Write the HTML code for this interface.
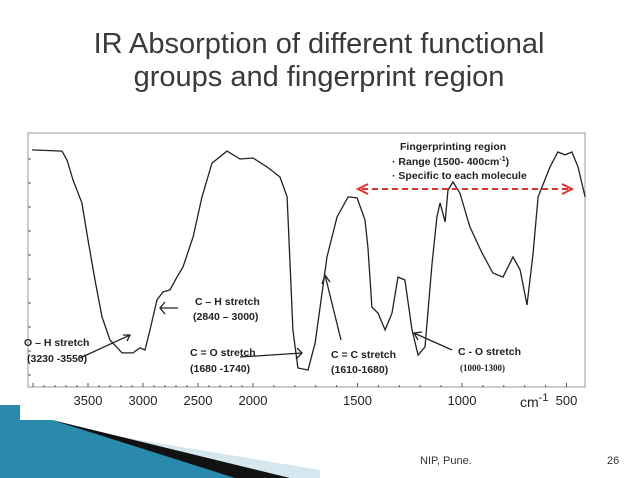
<!DOCTYPE html>
<html><head><meta charset="utf-8"><style>
body{margin:0;width:638px;height:478px;overflow:hidden;background:#fff;font-family:"Liberation Sans",sans-serif;position:relative}
.t{position:absolute;left:0;width:638px;text-align:center;font-size:29px;color:#3a3a3a;line-height:33px}
</style></head><body>
<div class="t" style="top:28px">IR Absorption of different functional<br>groups and fingerprint region</div>
<svg width="638" height="478" style="position:absolute;left:0;top:0">
<polygon points="0,408 20,408 20,420 320,470 320,478 0,478" fill="#d5e8f0"/>
<polygon points="52,420 290,478 0,478 0,420" fill="#111"/>
<polygon points="0,405 20,405 20,420 52,420 235,478 0,478" fill="#2a8aae"/>
<rect x="22" y="132" width="570" height="288" fill="#fff"/>
<rect x="28" y="133" width="557" height="254" fill="none" stroke="#999" stroke-width="1"/>
<g id="ticks"></g>
<path id="curve" fill="none" stroke="#222" stroke-width="1.3"/>
<g font-size="10.5" font-weight="bold" fill="#222">
<text x="24" y="346">O – H stretch</text><text x="27" y="362">(3230 -3550)</text>
<text x="195" y="305">C – H stretch</text><text x="193" y="320">(2840 – 3000)</text>
<text x="190" y="356">C = O stretch</text><text x="190" y="372">(1680 -1740)</text>
<text x="331" y="358">C = C stretch</text><text x="331" y="373">(1610-1680)</text>
<text x="458" y="355">C - O stretch</text><text x="460" y="371" font-size="9" font-family="Liberation Serif">(1000-1300)</text>
<text x="400" y="150">Fingerprinting region</text>
<text x="392" y="165">· Range (1500- 400cm<tspan font-size="7" dy="-4">-1</tspan><tspan dy="4">)</tspan></text>
<text x="392" y="179">· Specific to each molecule</text>
</g>
<g stroke="#222" stroke-width="1.3" fill="none">
<path d="M80,358 L130,335 M123,335 L130,335 L127,341"/>
<path d="M160,308 L178,308 M165,302 L160,308 L165,314"/>
<path d="M240,357 L302,353 M297,348 L302,353 L296,359"/>
<path d="M341,340 L325,275 M322,284 L325,275 L330,282"/>
<path d="M452,350 L414,333 M418,340 L414,333 L422,332"/>
</g>
<g>
<line x1="362" y1="189" x2="568" y2="189" stroke="#e53030" stroke-width="2" stroke-dasharray="6,4"/>
<path d="M368,184 L358,189 L368,194 M562,184 L572,189 L562,194" stroke="#e53030" stroke-width="2" fill="none"/>
</g>
<g font-size="13" fill="#222" text-anchor="middle" id="xlabels"></g>
<text x="520" y="407" font-size="14" fill="#222">cm<tspan font-size="11" dy="-6">-1</tspan></text>
</svg>
<div style="position:absolute;left:420px;top:455px;font-size:11px;color:#333">NIP, Pune.</div>
<div style="position:absolute;left:607px;top:455px;font-size:11px;color:#333">26</div>
<script>
const wavenumbers=[4009,3736,3691,3636,3555,3500,3436,3373,3300,3191,3091,3027,2982,2936,2873,2818,2755,2691,2636,2545,2464,2373,2236,2118,2000,1933,1871,1837,1823,1809,1785,1737,1703,1679,1646,1598,1545,1502,1464,1450,1431,1402,1368,1335,1306,1273,1239,1210,1177,1143,1120,1105,1081,1067,1043,1010,962,904,852,804,756,722,689,660,636,579,541,507,474,445,411];
const transmittance=[98.8,98.3,94.6,86.3,76.7,61.3,44.6,29.2,19.6,14.2,14.2,16.3,15.4,23.8,36.3,39.6,40.4,45.8,50,62.5,79.2,93.3,98.3,95,95.4,91.7,87.5,79.2,51.7,23.8,7.9,7.1,18.3,33.3,54.2,70.8,79.2,78.8,69.6,58.3,33.3,30.8,23.8,30.8,45.8,44.6,23.8,13.3,16.7,51.7,70.8,76.7,68.8,82.1,85.4,80.8,66.7,55.8,47.5,45.8,54.2,48.8,34.2,55.8,79.2,91.7,97.9,96.7,97.9,91.7,79.2];
const tickValues=[3500,3000,2500,2000,1500,1000,500];
const tickLabels=["3500","3000","2500","2000","1500","1000","500"];
function xs(v){return v>=2000?253-(v-2000)*0.11:253+(2000-v)*0.209;}
function ys(t){return 387-t*2.4;}
let d='';
wavenumbers.forEach((v,i)=>{d+=(i?'L':'M')+xs(v).toFixed(1)+','+ys(transmittance[i]).toFixed(1);});
document.getElementById('curve').setAttribute('d',d);
const NS='http://www.w3.org/2000/svg';
const xl=document.getElementById('xlabels'),tg=document.getElementById('ticks');
tickValues.forEach((v,i)=>{
 const t=document.createElementNS(NS,'text');
 
 
 t.setAttribute('x',xs(v));t.setAttribute('y',405);t.textContent=tickLabels[i];xl.appendChild(t);
});
for(let v=4000;v>=500;v-=(v>2000?100:100)){
 const l=document.createElementNS(NS,'line');
 
 
 const x=xs(v);l.setAttribute('x1',x);l.setAttribute('x2',x);l.setAttribute('y1',387);l.setAttribute('y2',v%500===0?383:385);
 l.setAttribute('stroke','#555');tg.appendChild(l);
}
for(let k=0;k<10;k++){
 const l=document.createElementNS(NS,'line');
 
 
 const y=ys(k*10+5);l.setAttribute('x1',28);l.setAttribute('x2',31);l.setAttribute('y1',y);l.setAttribute('y2',y);
 l.setAttribute('stroke','#555');tg.appendChild(l);
}
</script>
</body></html>
